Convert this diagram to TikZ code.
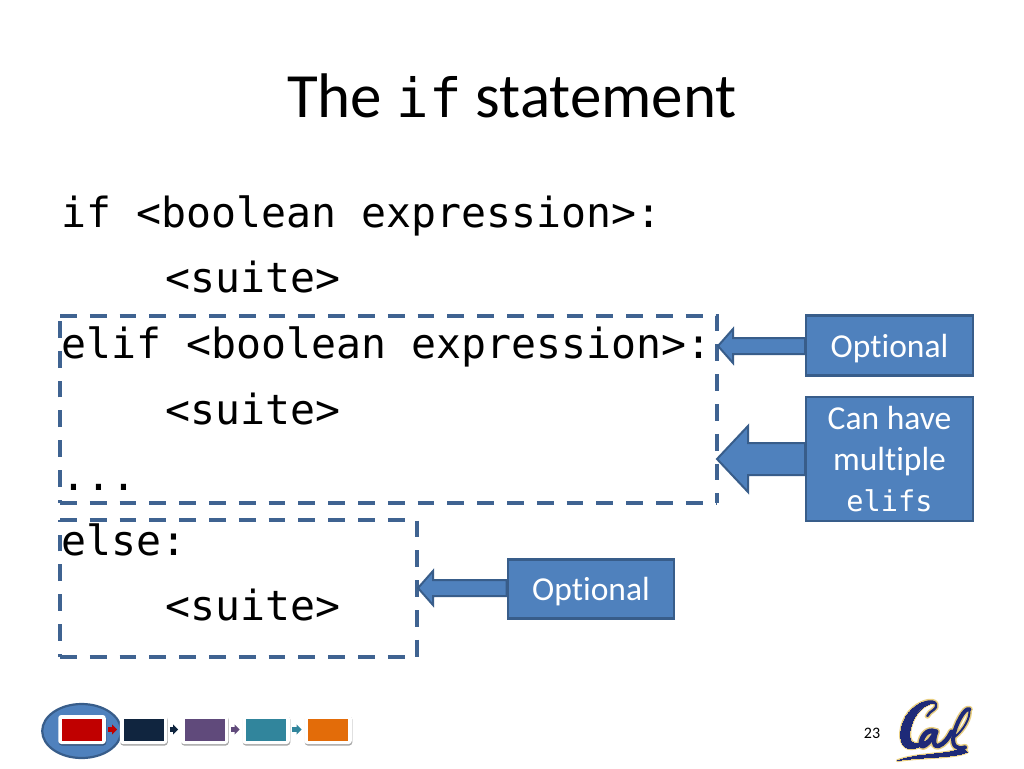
\documentclass[tikz,border=0pt]{standalone}
\usepackage{fontspec}
\setmainfont[Ligatures=NoCommon]{Carlito}
\setmonofont{DejaVu Sans Mono}
\usetikzlibrary{calc,shadows,arrows.meta}
\definecolor{bluefill}{HTML}{4F81BD}
\definecolor{blueline}{HTML}{385D8A}
\definecolor{dashblue}{HTML}{3F6391}
\definecolor{calblue}{HTML}{1E2A78}
\definecolor{calgold}{HTML}{E8CE80}
\definecolor{stepA}{HTML}{C00000}
\definecolor{stepB}{HTML}{10253F}
\definecolor{stepC}{HTML}{604A7B}
\definecolor{stepD}{HTML}{31859C}
\definecolor{stepE}{HTML}{E36C09}
\newcommand{\blockarrow}[5]{% from node, tip, head length, head half width, shaft half width
  \draw[arrowshape] (#2) -- ++(#3,-#4) -- ++(0,#4-#5) -- ($(#1.west |- #2)+(0,-#5)$)
     -- ($(#1.west |- #2)+(0,#5)$) -- ($(#2)+(#3,#5)$) -- ($(#2)+(#3,#4)$) -- cycle;}
\newcommand{\dashframe}[2]{% corners top-left, bottom-right
  \draw[frameline] (#1) -- (#2 |- #1) -- (#2);
  \draw[frameline] (#1 |- #2) -- (#2);
  \draw[frameline,dash phase=13.5pt] (#1 |- #2) -- (#1);}
\newcommand{\stepbox}[3]{% name, centre x, colour
  \node[whitebox] (w#1) at (#2,729.5) {};
  \node[colourbox,fill=#3] (c#1) at (w#1.center) {};}
\begin{document}
\begin{tikzpicture}[x=1pt,y=-1pt,
  codeline/.style={anchor=base west,inner sep=0pt,font=\fontsize{41.5pt}{41.5pt}\ttfamily,text=black},
  bluebox/.style={draw=blueline,line width=2.4pt,fill=bluefill,text=white,inner sep=0pt,align=center,
    minimum width=166.5pt,font=\fontsize{33.5pt}{41pt}\selectfont},
  arrowshape/.style={draw=blueline,line width=2pt,fill=bluefill,line join=miter},
  frameline/.style={draw=dashblue,line width=4pt,dash pattern=on 16.8pt off 13pt},
  whitebox/.style={fill=white,rounded corners=3pt,minimum width=47.5pt,minimum height=29pt,inner sep=0pt,
    drop shadow={shadow xshift=0.5pt,shadow yshift=-1.5pt,opacity=0.35,fill=black}},
  colourbox/.style={minimum width=40pt,minimum height=22pt,inner sep=0pt},
  miniarrow/.style={line width=5pt,-{Triangle[length=5pt,width=10pt]}},
  pagelabel/.style={inner sep=0pt,text=black,font=\fontsize{16pt}{16pt}\selectfont},
  titletext/.style={anchor=base,inner sep=0pt,text=black,font=\fontsize{63pt}{63pt}\selectfont}
]
\useasboundingbox (0,0) rectangle (1024,768);
\fill[white] (0,0) rectangle (1024,768);

\node[titletext] (title) at (512,117) {The {\fontsize{54pt}{54pt}\ttfamily if} statement};

\node[codeline] (l1) at (61.5,227) {if <boolean expression>:};
\node[codeline] (l2) at (165,292) {<suite>};
\node[codeline] (l3) at (61.5,358.5) {elif <boolean expression>:};
\node[codeline] (l4) at (165,424) {<suite>};
\node[codeline] (l5) at (61.5,490.5) {...};
\node[codeline] (l6) at (61.5,555) {else:};
\node[codeline] (l7) at (165,620.5) {<suite>};

\coordinate (f1a) at (60,316);
\coordinate (f1b) at (717,503);
\coordinate (f2a) at (60,520);
\coordinate (f2b) at (417,657);
\dashframe{f1a}{f1b}
\dashframe{f2a}{f2b}

\node[bluebox,minimum height=60pt,text depth=0pt] (opt1) at (889.5,345.5) {Optional};
\node[bluebox,minimum height=124pt] (multi) at (889.5,459) {Can have\\multiple\\{\fontsize{28.6pt}{41pt}\ttfamily elifs}};
\node[bluebox,minimum height=59pt,text depth=0pt] (opt2) at (591,589) {Optional};

\coordinate (tip1) at (718,346);
\coordinate (tip2) at (717,459);
\coordinate (tip3) at (418,588);
\blockarrow{opt1}{tip1}{15}{17}{8}
\blockarrow{multi}{tip2}{31}{33}{16}
\blockarrow{opt2}{tip3}{15}{17}{8}

% footer
\draw[draw=blueline,line width=2.2pt,fill=bluefill] (81.7,731) ellipse [x radius=39.5pt,y radius=27pt];
\stepbox{a}{82}{stepA}
\stepbox{b}{143.5}{stepB}
\stepbox{c}{204.5}{stepC}
\stepbox{d}{266}{stepD}
\stepbox{e}{328}{stepE}
\draw[miniarrow,stepA] ($(wa.east)+(2.5pt,0)$) -- ($(wb.west)+(-2.5pt,0)$);
\draw[miniarrow,stepB] ($(wb.east)+(2.5pt,0)$) -- ($(wc.west)+(-2.5pt,0)$);
\draw[miniarrow,stepC] ($(wc.east)+(2.5pt,0)$) -- ($(wd.west)+(-2.5pt,0)$);
\draw[miniarrow,stepD] ($(wd.east)+(2.5pt,0)$) -- ($(we.west)+(-2.5pt,0)$);

\node[pagelabel] (page) at (872,733) {23};

% Cal logo
\begin{scope}[shift={(840,690)},x=0.3333pt,y=-0.3333pt,line cap=round,line join=round]
  \foreach \col/\extra in {calgold/3.0pt,calblue/0pt}{
    \begin{scope}[draw=\col,fill=\col]
    \draw[line width=2.4pt+\extra] (262,78) .. controls (268,62) and (295,58) .. (288,42)
         .. controls (280,25) and (235,35) .. (210,75);
    \fill[line width=\extra,draw=\col] (285,38) .. controls (250,22) and (205,55) .. (190,95)
         .. controls (172,140) and (185,178) .. (215,176)
         .. controls (235,175) and (250,165) .. (262,150)
         .. controls (245,160) and (225,165) .. (215,155)
         .. controls (200,135) and (215,85) .. (240,60)
         .. controls (255,45) and (270,40) .. (285,38) -- cycle;
    \draw[line width=5pt+\extra] (285,125) .. controls (262,115) and (245,140) .. (243,160)
         .. controls (242,178) and (265,165) .. (288,125);
    \draw[line width=4.5pt+\extra] (288,125) .. controls (280,150) and (278,172) .. (295,168)
         .. controls (312,162) and (325,145) .. (335,125);
    \draw[line width=4pt+\extra] (388,58) .. controls (375,50) and (345,105) .. (340,140)
         .. controls (336,168) and (350,180) .. (375,172);
    \draw[line width=2pt+\extra] (388,58) .. controls (392,85) and (370,120) .. (345,140);
    \fill[line width=\extra,draw=\col] (172,212) .. controls (230,190) and (320,195) .. (355,178)
         .. controls (365,172) and (375,178) .. (382,186)
         .. controls (340,205) and (240,200) .. (172,212) -- cycle;
    \end{scope}
  }
\end{scope}
\end{tikzpicture}
\end{document}
